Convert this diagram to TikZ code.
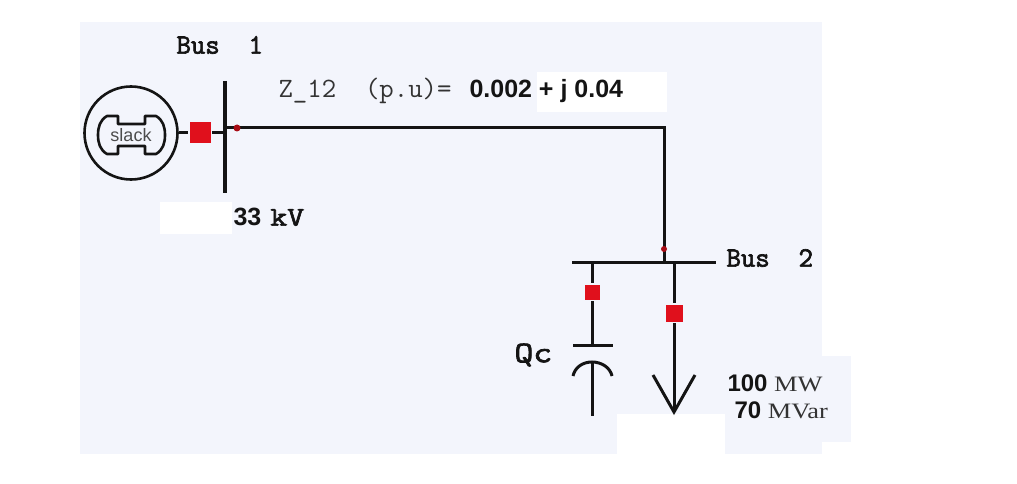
\documentclass[tikz,border=0pt]{standalone}
\usepackage{fontspec}
\setmainfont{Liberation Sans}
\newfontfamily\serfnt[FakeStretch=1.2]{Liberation Serif}
\newfontfamily\busfnt[FakeBold=2.5]{Latin Modern Mono}
\newfontfamily\widefnt[FakeBold=2.5,FakeStretch=1.22]{Latin Modern Mono}
\usetikzlibrary{positioning}
\definecolor{panel}{HTML}{F3F5FC}
\definecolor{brk}{HTML}{E0101C}
\definecolor{wire}{HTML}{141414}

\begin{document}
\begin{tikzpicture}
[x=1pt,y=-1pt,-,line width=3pt,
                    gen node/.style={circle,draw=wire,line width=2.6pt,minimum size=93pt,inner sep=0pt},
                    brk node/.style={rectangle,fill=brk,inner sep=0pt},
                    dot node/.style={circle,fill=brk!75!black,inner sep=0pt,minimum size=7pt},
                    bus label/.style={font=\busfnt\fontsize{28}{28}\selectfont,text=wire,inner sep=0pt,anchor=west},
                    patch/.style={fill=white,draw=none}]

  \useasboundingbox (0,0) rectangle (1017,484);
  \fill[panel] (80,22) rectangle (822,454);
  \fill[panel] (723,356) rectangle (851,442);
  \fill[patch] (160,202) rectangle (232,234);
  \fill[patch] (617,414) rectangle (725,454);
  \fill[patch] (537,72) rectangle (667,112);

  % machine
  \node[gen node] (slack) at (131,133) {};
  \node[brk node,minimum size=21pt] (brk1) at (200,133) {};
  \draw[wire,line width=2.6pt,line join=round]
    (118,124) -- (118,116) -- (107,116) .. controls (100,120) and (98,127) .. (98,135)
    .. controls (98,143) and (100,150) .. (107,154) -- (118,154) -- (118,146)
    -- (145,146) -- (145,154) -- (156,154) .. controls (163,150) and (165,143) .. (165,135)
    .. controls (165,127) and (163,120) .. (156,116) -- (145,116) -- (145,124) -- cycle;
  \node[font=\fontsize{18}{18}\selectfont,text=black!70,inner sep=0pt] (slacktext) at (131,135) {slack};

  % buses
  \coordinate (bus1top) at (225,81);
  \coordinate (bus1bot) at (225,193);
  \coordinate (bus1gen) at (225,133);
  \coordinate (bus1line) at (225,128);
  \coordinate (bus2left) at (572,262);
  \coordinate (bus2right) at (716,262);
  \coordinate (bus2line) at (664,262);
  \coordinate (corner) at (664,128);
  \coordinate (bus2cap) at (592,262);
  \coordinate (bus2load) at (674,262);

  \draw[wire,line width=3.8pt] (bus1top) -- (bus1bot);
  \draw[wire] (bus2left) -- (bus2right);

  \draw[wire] (slack) -- (brk1);
  \draw[wire] (brk1) -- (bus1gen);
  \draw[wire] (bus1line) -- (corner) -- (bus2line);
  \node[dot node] (dot1) at (237,128) {};
  \node[dot node,minimum size=6pt] (dot2) at (664,249) {};

  % capacitor
  \node[brk node,minimum size=15pt] (brk2) at (592,292) {};
  \coordinate (plate) at (592,345);
  \coordinate (plateleft) at (573,345);
  \coordinate (plateright) at (613,345);
  \coordinate (arctop) at (592,362);
  \coordinate (arcleft) at (573,376);
  \coordinate (arcright) at (612,376);
  \coordinate (capend) at (592,416);
  \draw[wire] (bus2cap) -- (brk2);
  \draw[wire] (brk2) -- (plate);
  \draw[wire] (plateleft) -- (plateright);
  \draw[wire] (arcleft) .. controls (575,367) and (583,362) .. (arctop) .. controls (601,362) and (610,367) .. (arcright);
  \draw[wire] (arctop) -- (capend);

  % load
  \node[brk node,minimum size=17pt] (brk3) at (674,313) {};
  \coordinate (loadtip) at (674,412);
  \coordinate (loadleft) at (653,375);
  \coordinate (loadright) at (695,375);
  \draw[wire] (bus2load) -- (brk3);
  \draw[wire] (brk3) -- (loadtip);
  \draw[wire,line join=miter] (loadleft) -- (loadtip) -- (loadright);

  % labels
  \node[bus label] (bus1lab) at (175,45) {Bus\ \ 1};
  \node[bus label] (bus2lab) at (725,258) {Bus\ \ 2};
  \node[bus label,font=\widefnt\fontsize{30}{30}\selectfont] (qclab) at (513,355) {Qc};
  \node[inner sep=0pt,anchor=west,text=wire] (kvlab) at (232,217)
    {\fontsize{25}{25}\bfseries\selectfont 33\hspace{9pt}\widefnt\fontsize{27}{27}\selectfont kV};
  \node[inner sep=0pt,anchor=west,text=black!80] (zlab) at (277,91)
    {\ttfamily\fontsize{28}{28}\selectfont Z\_12\ \ (p.u)=};
  \node[inner sep=0pt,anchor=west,text=wire] (zval) at (468,91)
    {\fontsize{25}{25}\bfseries\selectfont 0.002 + j 0.04};
  \node[inner sep=0pt,anchor=west,text=wire] (plab) at (726,383)
    {\fontsize{24}{24}\bfseries\selectfont 100 \serfnt\mdseries\color{black!80}\fontsize{22}{24}\selectfont MW};
  \node[inner sep=0pt,anchor=west,text=wire] (qlab) at (733,410)
    {\fontsize{24}{24}\bfseries\selectfont 70 \serfnt\mdseries\color{black!80}\fontsize{22}{24}\selectfont MVar};
\end{tikzpicture}
\end{document}
